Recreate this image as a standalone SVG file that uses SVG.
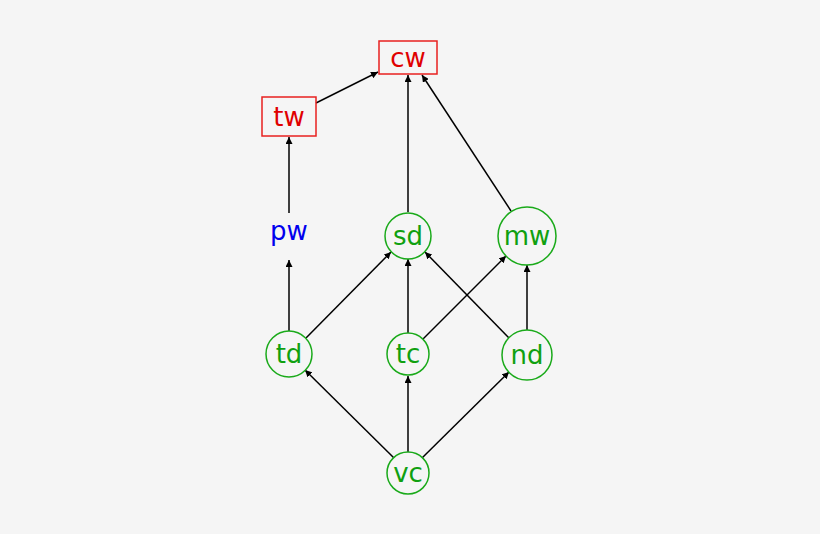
<svg xmlns="http://www.w3.org/2000/svg" width="820" height="534" viewBox="0 0 820 534">
<style>
.c{fill:none;stroke:#1aaa1a;stroke-width:1.5}
.b{fill:none;stroke:#e8201f;stroke-width:1.5}
text{font-family:"DejaVu Sans",sans-serif;font-size:26px;text-anchor:middle}
.g{fill:#10a010}.r{fill:#e00000}.bl{fill:#0000ee}
#edges line{stroke:#000;stroke-width:1.5;marker-end:url(#a)}
</style>
<defs><marker id="a" viewBox="0 0 10 10" refX="10" refY="5" markerWidth="7" markerHeight="7" orient="auto" markerUnits="userSpaceOnUse"><path d="M0,0L10,5L0,10z"/></marker></defs>
<rect width="820" height="534" fill="#f5f5f5"/>
<g id="edges">
<line x1="316" y1="103" x2="378" y2="72"/>
<line x1="408" y1="212" x2="408" y2="75"/>
<line x1="511" y1="211" x2="422" y2="75"/>
<line x1="289" y1="213" x2="289" y2="137"/>
<line x1="289" y1="331" x2="289" y2="260"/>
<line x1="306" y1="338" x2="391" y2="252"/>
<line x1="408" y1="333" x2="408" y2="259"/>
<line x1="423" y1="339" x2="506" y2="256"/>
<line x1="509" y1="338" x2="425" y2="252"/>
<line x1="527" y1="330" x2="527" y2="265"/>
<line x1="394" y1="458" x2="305" y2="370"/>
<line x1="408" y1="452" x2="408" y2="376"/>
<line x1="422" y1="458" x2="509" y2="372"/>
</g>
<g id="cw"><rect class="b" x="379" y="41" width="58" height="33"/><text class="r" x="408" y="67">cw</text></g>
<g id="tw"><rect class="b" x="262" y="97" width="54" height="39"/><text class="r" x="289" y="126">tw</text></g>
<g id="pw"><text class="bl" x="289" y="240">pw</text></g>
<g id="sd"><circle class="c" cx="408" cy="236" r="23"/><text class="g" x="408" y="245">sd</text></g>
<g id="mw"><circle class="c" cx="527" cy="236" r="29"/><text class="g" x="527" y="245">mw</text></g>
<g id="td"><circle class="c" cx="289" cy="354" r="23"/><text class="g" x="289" y="363">td</text></g>
<g id="tc"><circle class="c" cx="408" cy="354" r="21"/><text class="g" x="408" y="363">tc</text></g>
<g id="nd"><circle class="c" cx="527" cy="355" r="25"/><text class="g" x="527" y="364">nd</text></g>
<g id="vc"><circle class="c" cx="408" cy="473" r="21"/><text class="g" x="408" y="482">vc</text></g>
</svg>
